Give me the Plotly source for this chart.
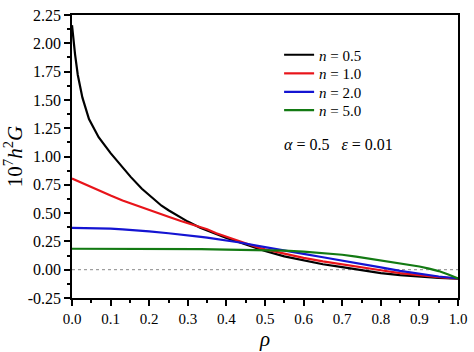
import plotly.graph_objects as go

# data
rho_black = [0, 0.003, 0.008, 0.015, 0.027, 0.044, 0.069, 0.1, 0.131, 0.152, 0.181, 0.2, 0.232, 0.25,
             0.282, 0.3, 0.332, 0.374, 0.4, 0.435, 0.478, 0.5, 0.55, 0.6, 0.65, 0.7, 0.75, 0.8, 0.85,
             0.9, 0.95, 1.0]
g_black = [2.16, 2.05, 1.9, 1.72, 1.52, 1.33, 1.17, 1.03, 0.9, 0.82, 0.715, 0.66, 0.565, 0.525,
           0.46, 0.425, 0.37, 0.314, 0.28, 0.24, 0.19, 0.165, 0.118, 0.08, 0.048, 0.022, -0.005, -0.03,
           -0.048, -0.062, -0.072, -0.078]

rho_red = [0, 0.05, 0.1, 0.131, 0.15, 0.2, 0.25, 0.282, 0.3, 0.332, 0.35, 0.374, 0.4, 0.435, 0.478,
           0.5, 0.55, 0.6, 0.65, 0.7, 0.736, 0.75, 0.8, 0.85, 0.9, 0.95, 1.0]
g_red = [0.805, 0.728, 0.655, 0.612, 0.588, 0.526, 0.468, 0.43, 0.41, 0.376, 0.357, 0.322, 0.29,
         0.252, 0.2, 0.18, 0.14, 0.105, 0.073, 0.045, 0.028, 0.02, -0.005, -0.03, -0.05, -0.066, -0.078]

rho_blue = [0, 0.05, 0.1, 0.131, 0.15, 0.2, 0.25, 0.282, 0.3, 0.334, 0.35, 0.4, 0.435, 0.478, 0.5,
            0.55, 0.6, 0.65, 0.7, 0.736, 0.75, 0.8, 0.85, 0.9, 0.95, 1.0]
g_blue = [0.37, 0.368, 0.362, 0.356, 0.352, 0.338, 0.322, 0.312, 0.303, 0.29, 0.284, 0.26, 0.24,
          0.212, 0.198, 0.17, 0.14, 0.11, 0.078, 0.056, 0.048, 0.02, -0.01, -0.038, -0.06, -0.078]

rho_green = [0, 0.1, 0.2, 0.3, 0.334, 0.4, 0.45, 0.5, 0.55, 0.6, 0.65, 0.7, 0.736, 0.75, 0.8, 0.85,
             0.9, 0.925, 0.95, 0.975, 1.0]
g_green = [0.185, 0.185, 0.184, 0.182, 0.181, 0.178, 0.176, 0.173, 0.168, 0.16, 0.148, 0.132, 0.115,
           0.108, 0.084, 0.058, 0.028, 0.01, -0.012, -0.042, -0.078]

labels = ["<i>n</i> = 0.5", "<i>n</i> = 1.0", "<i>n</i> = 2.0", "<i>n</i> = 5.0"]
colors = ["#000000", "#e8141a", "#1414d2", "#137a13"]

series = [(rho_black, g_black), (rho_red, g_red), (rho_blue, g_blue), (rho_green, g_green)]

FONT = "Liberation Serif"
T, B, L, R, W, H = 7, 48, 67, 10, 474, 352
PH = H - T - B
PW = W - L - R

legend_ids = ["legend", "legend2", "legend3", "legend4"]
legend_rows = [49, 68.5, 88, 107]

fig = go.Figure()
for (x, y), name, c, lid in zip(series, labels, colors, legend_ids):
    fig.add_trace(go.Scatter(x=x, y=y, mode="lines", name=name, legend=lid,
                             line=dict(color=c, width=2.2)))

fig.add_shape(type="line", xref="x", yref="y", x0=0, x1=1, y0=0, y1=0,
              line=dict(color="#888888", width=1, dash="dot"), layer="below")

fig.add_annotation(xref="paper", yref="paper", x=(283 - L) / PW, y=(T + PH - 143) / PH,
                   xanchor="left", yanchor="middle", showarrow=False,
                   text="<i>α</i> = 0.5   <i>ε</i> = 0.01",
                   font=dict(family=FONT, size=16, color="black"))

legends = {}
for lid, row in zip(legend_ids, legend_rows):
    legends[lid] = dict(x=(280 - L) / PW, y=(T + PH - row) / PH, xanchor="left", yanchor="middle",
                        bgcolor="rgba(0,0,0,0)", borderwidth=0,
                        font=dict(family=FONT, size=15, color="black"), itemwidth=30)

axis_common = dict(showline=True, linecolor="black", linewidth=1.6, mirror=True,
                   ticks="outside", tickcolor="black", tickwidth=1.5, ticklen=6,
                   showgrid=False, zeroline=False)

fig.update_layout(
    width=W, height=H,
    margin=dict(l=L, r=R, t=T, b=B),
    paper_bgcolor="white", plot_bgcolor="white",
    font=dict(family=FONT, color="black"),
    showlegend=True,
    xaxis=dict(range=[0, 1], tickvals=[i / 10 for i in range(11)],
               ticktext=["%.1f" % (i / 10) for i in range(11)],
               tickfont=dict(family=FONT, size=15, color="black"),
               minor=dict(ticks="outside", tickvals=[i / 20 for i in range(1, 20, 2)], ticklen=3,
                          tickcolor="black", tickwidth=1.5),
               title=dict(text="<i>ρ</i>", font=dict(family=FONT, size=21, color="black"), standoff=4),
               **axis_common),
    yaxis=dict(range=[-0.25, 2.25], tickvals=[-0.25 + 0.25 * i for i in range(11)],
               ticktext=["%.2f" % (-0.25 + 0.25 * i) for i in range(11)],
               tickfont=dict(family=FONT, size=16, color="black"),
               minor=dict(ticks="outside", tickvals=[-0.125 + 0.25 * i for i in range(10)], ticklen=3,
                          tickcolor="black", tickwidth=1.5),
               title=dict(text="10<sup>7</sup><i>h</i><sup>2</sup><i>G</i>",
                          font=dict(family=FONT, size=21, color="black"), standoff=6),
               **axis_common),
    **legends,
)

fig.write_html("out.html")
